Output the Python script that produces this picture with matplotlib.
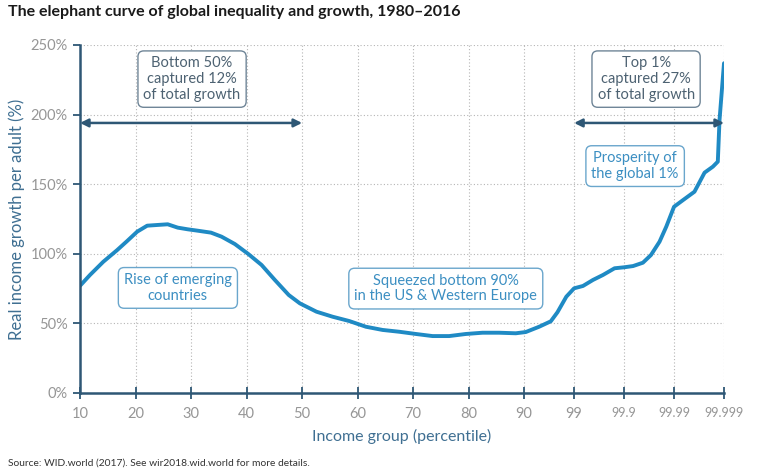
import numpy as np
import matplotlib
matplotlib.use("Agg")
import matplotlib.pyplot as plt

# ---- data ----
percentile = [10, 11.8, 14.2, 16.7, 18.5, 20.3, 22.1, 23.9, 25.8, 27.6, 29.4, 31.2,
              33.6, 35.5, 37.9, 40.3, 42.7, 45.1, 47.6, 49.6, 52.6, 55.5, 58.5, 61.5,
              64.5, 67.5, 70.5, 73.5, 76.5, 79.5, 82.5, 85.5, 88.5, 90.3, 92.7, 94.8,
              96, 97.6, 99, 99.336, 99.58, 99.736, 99.845, 99.9, 99.934, 99.958,
              99.971, 99.9805, 99.9857, 99.99, 99.9934, 99.9961, 99.99755, 99.99833,
              99.99867, 99.99877, 99.999]
growth = [77, 84.8, 94.3, 102.7, 109.2, 115.9, 120.2, 120.7, 121.2, 118.8, 117.6, 116.6,
          115.2, 112.3, 107, 99.9, 92, 81.2, 70.4, 64.4, 58.4, 54.8, 51.7, 47.6,
          45.3, 44, 42.4, 40.9, 40.9, 42.4, 43.3, 43.3, 42.9, 43.8, 47.6, 51.5,
          58, 69.2, 75.2, 76.9, 81.2, 84.8, 89.6, 90.3, 91.2, 93.6,
          99.1, 108.7, 119.5, 133.8, 138.6, 144.6, 158.3, 162.6,
          166.2, 196, 236.9]
x_ticks = [10, 20, 30, 40, 50, 60, 70, 80, 90, 99, 99.9, 99.99, 99.999]
x_tick_labels = ["10", "20", "30", "40", "50", "60", "70", "80", "90",
                 "99", "99.9", "99.99", "99.999"]
y_ticks = [0, 50, 100, 150, 200, 250]
y_tick_labels = ["0%", "50%", "100%", "150%", "200%", "250%"]
bottom_arrow_span = [10, 50]
top_arrow_span = [99, 99.999]
arrow_level = 194

# ---- scale: linear up to 99, then each extra "9" takes 9 units ----
def fwd(p):
    p = np.asarray(p, dtype=float)
    tail = 99 + 9 * np.log10(1.0 / np.clip(100 - p, 1e-9, None))
    return np.where(p <= 99, p, tail)

def inv(t):
    t = np.asarray(t, dtype=float)
    return np.where(t <= 99, t, 100 - 10 ** (-(np.clip(t, 99, None) - 99) / 9))

plt.rcParams['font.family'] = ['Lato', 'DejaVu Sans']

CURVE = "#1f8ac4"
DARK = "#2e5775"
TICKC = "#969696"
LABELC = "#3f6f92"
TEXTC = "#4d6272"

fig = plt.figure(figsize=(7.68, 4.73), dpi=100)
ax = fig.add_axes([80 / 768, 1 - 393 / 473, 644 / 768, 348 / 473])
ax.set_xscale('function', functions=(fwd, inv))

ax.plot(percentile, growth, color=CURVE, lw=2.8, solid_capstyle='round',
        solid_joinstyle='round', zorder=3)

ax.set_xlim(10, 99.999)
ax.set_ylim(0, 250)
ax.set_xticks(x_ticks)
ax.set_xticklabels(x_tick_labels)
ax.set_yticks(y_ticks)
ax.set_yticklabels(y_tick_labels)
ax.minorticks_off()

ax.grid(True, color="#b5b5b5", lw=0.8, linestyle=(0, (1, 2)), zorder=0)
for s in ['top', 'right']:
    ax.spines[s].set_visible(False)
for s in ['left', 'bottom']:
    ax.spines[s].set_color(DARK)
    ax.spines[s].set_linewidth(1.8)
    ax.spines[s].set_zorder(4)
ax.tick_params(axis='x', direction='inout', length=8, width=1.3, color=DARK,
               labelcolor=TICKC, labelsize=10.5, pad=6)
ax.tick_params(axis='y', direction='out', length=5, width=1.3, color=DARK,
               labelcolor=TICKC, labelsize=10.5, pad=4)
for lab in ax.get_xticklabels()[-3:]:
    lab.set_fontsize(9)

ax.set_xlabel("Income group (percentile)", color=LABELC, fontsize=11.5, labelpad=6)
ax.set_ylabel("Real income growth per adult (%)", color=LABELC, fontsize=12, labelpad=4)

# arrows
for span in (bottom_arrow_span, top_arrow_span):
    ax.annotate("", xy=(span[0], arrow_level), xytext=(span[1], arrow_level),
                arrowprops=dict(arrowstyle="<|-|>", color=DARK, lw=1.8,
                                mutation_scale=12, shrinkA=0, shrinkB=0),
                zorder=5)

def box(x, y, txt, tc, ec):
    ax.text(x, y, txt, transform=ax.transAxes, ha='center', va='center',
            fontsize=10.5, color=tc, linespacing=1.15, zorder=6,
            bbox=dict(boxstyle="round,pad=0.38,rounding_size=0.4", fc="white",
                      ec=ec, lw=1.0))

box(0.174, 0.902, "Bottom 50%\ncaptured 12%\nof total growth", TEXTC, "#6f8597")
box(0.879, 0.902, "Top 1%\ncaptured 27%\nof total growth", TEXTC, "#6f8597")
box(0.862, 0.652, "Prosperity of\nthe global 1%", "#3c8fc2", "#6aa6cc")
box(0.152, 0.302, "Rise of emerging\ncountries", "#3c8fc2", "#6aa6cc")
box(0.568, 0.300, "Squeezed bottom 90%\nin the US & Western Europe", "#3c8fc2", "#6aa6cc")

fig.text(8 / 768, 1 - 12 / 473, "The elephant curve of global inequality and growth, 1980\u20132016",
         fontsize=11.5, fontweight='bold', color="#1a1a1a", ha='left', va='center')
fig.text(8 / 768, 1 - 463 / 473, "Source: WID.world (2017). See wir2018.wid.world for more details.",
         fontsize=7.4, color="#333333", ha='left', va='center')

fig.savefig("out.png", dpi=100)
